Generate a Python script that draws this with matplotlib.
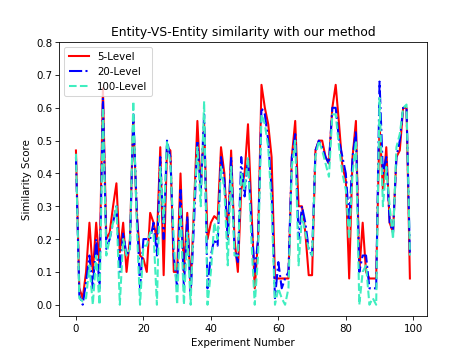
import matplotlib
matplotlib.use("Agg")
import matplotlib.pyplot as plt
import numpy as np

# === DATOS ===
experiments = list(range(100))

level_5 = [
    0.47, 0.05, 0.02, 0.10, 0.25, 0.10, 0.25, 0.12, 0.66, 0.20,
    0.22, 0.30, 0.37, 0.16, 0.25, 0.10, 0.20, 0.57, 0.28, 0.15,
    0.14, 0.10, 0.28, 0.25, 0.20, 0.48, 0.09, 0.48, 0.47, 0.10,
    0.10, 0.40, 0.10, 0.28, 0.05, 0.30, 0.56, 0.35, 0.55, 0.20,
    0.25, 0.27, 0.26, 0.48, 0.40, 0.20, 0.47, 0.20, 0.10, 0.35,
    0.40, 0.55, 0.30, 0.05, 0.20, 0.67, 0.60, 0.55, 0.45, 0.08,
    0.08, 0.08, 0.08, 0.08, 0.45, 0.56, 0.30, 0.30, 0.22, 0.09,
    0.09, 0.47, 0.50, 0.50, 0.45, 0.43, 0.60, 0.67, 0.55, 0.42,
    0.38, 0.08, 0.45, 0.56, 0.10, 0.25, 0.10, 0.08, 0.08, 0.08,
    0.55, 0.35, 0.48, 0.25, 0.22, 0.45, 0.47, 0.60, 0.60, 0.08,
]

level_20 = [
    0.45, 0.03, 0.00, 0.07, 0.15, 0.05, 0.20, 0.05, 0.63, 0.17,
    0.20, 0.25, 0.30, 0.10, 0.22, 0.15, 0.17, 0.58, 0.30, 0.05,
    0.20, 0.20, 0.20, 0.25, 0.15, 0.45, 0.20, 0.50, 0.45, 0.15,
    0.05, 0.35, 0.05, 0.27, 0.03, 0.25, 0.50, 0.35, 0.58, 0.05,
    0.15, 0.20, 0.18, 0.45, 0.38, 0.20, 0.45, 0.17, 0.13, 0.45,
    0.33, 0.45, 0.25, 0.10, 0.20, 0.60, 0.58, 0.50, 0.35, 0.02,
    0.13, 0.05, 0.08, 0.10, 0.45, 0.52, 0.20, 0.30, 0.25, 0.17,
    0.15, 0.47, 0.50, 0.48, 0.45, 0.43, 0.60, 0.60, 0.50, 0.45,
    0.40, 0.25, 0.45, 0.53, 0.10, 0.15, 0.15, 0.05, 0.05, 0.05,
    0.68, 0.40, 0.45, 0.25, 0.22, 0.45, 0.50, 0.60, 0.60, 0.15,
]

level_100 = [
    0.46, 0.02, 0.01, 0.02, 0.12, 0.00, 0.15, 0.00, 0.60, 0.15,
    0.20, 0.25, 0.30, 0.00, 0.20, 0.15, 0.17, 0.62, 0.25, 0.00,
    0.18, 0.18, 0.22, 0.22, 0.00, 0.42, 0.25, 0.50, 0.43, 0.20,
    0.00, 0.30, 0.00, 0.22, 0.00, 0.30, 0.48, 0.30, 0.62, 0.00,
    0.10, 0.25, 0.20, 0.42, 0.35, 0.12, 0.42, 0.15, 0.15, 0.40,
    0.35, 0.45, 0.20, 0.00, 0.15, 0.58, 0.55, 0.48, 0.30, 0.00,
    0.05, 0.02, 0.00, 0.05, 0.42, 0.50, 0.12, 0.27, 0.22, 0.17,
    0.15, 0.45, 0.50, 0.47, 0.43, 0.39, 0.58, 0.58, 0.48, 0.40,
    0.35, 0.20, 0.40, 0.50, 0.00, 0.10, 0.12, 0.00, 0.02, 0.00,
    0.63, 0.30, 0.42, 0.30, 0.20, 0.48, 0.52, 0.60, 0.61, 0.15,
]

# === GRAFICO ===
plt.figure(figsize=(6.4, 4.8), dpi=474 / 6.4)

plt.plot(experiments, level_5, color='red', linestyle='-', linewidth=2, label='5-Level')
plt.plot(experiments, level_20, color='blue', linestyle='-.', linewidth=2, label='20-Level')
plt.plot(experiments, level_100, color='#40eec0', linestyle='--', linewidth=2, label='100-Level')

plt.title("Entity-VS-Entity similarity with our method")
plt.xlabel("Experiment Number")
plt.ylabel("Similarity Score")
plt.ylim(-0.034, 0.8)
plt.legend(loc='upper left')

plt.savefig("out.png", dpi=474 / 6.4)
